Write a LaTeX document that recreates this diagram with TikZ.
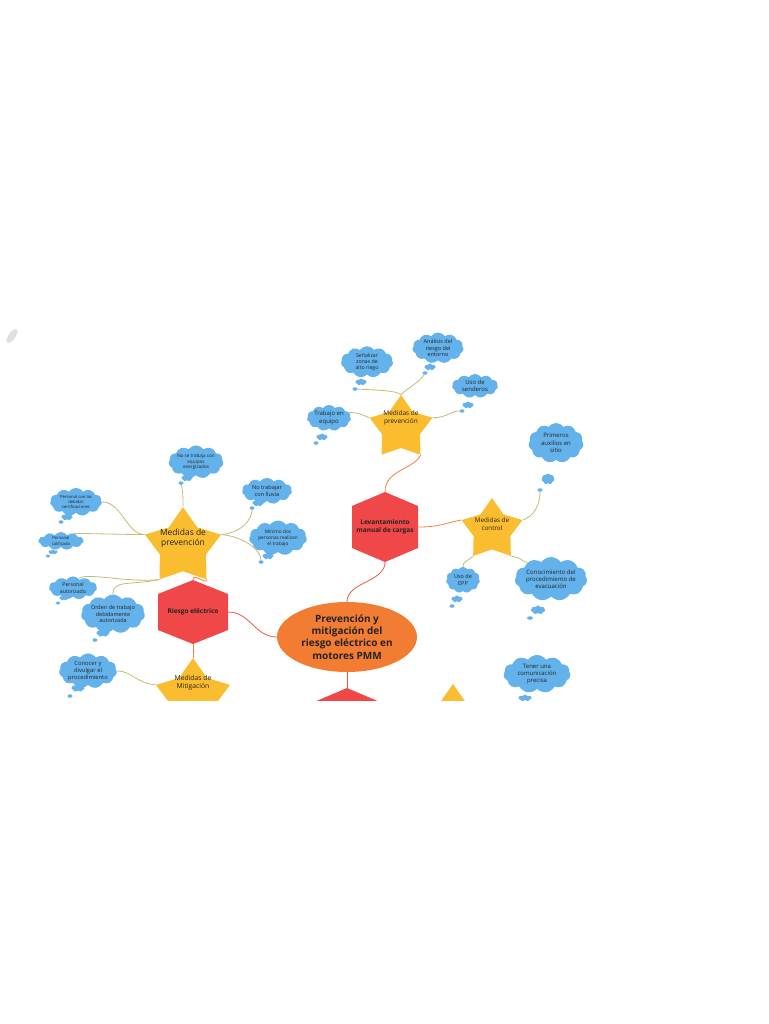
\documentclass[tikz,border=0pt]{standalone}
\usepackage{fontspec}
\setmainfont{Open Sans}
\usetikzlibrary{positioning}
\usetikzlibrary{calc}
\usetikzlibrary{shapes.geometric}
\usetikzlibrary{shapes.symbols}
\definecolor{coreorange}{RGB}{242, 125, 50}
\definecolor{hexred}{RGB}{240, 72, 72}
\definecolor{staryellow}{RGB}{251, 189, 48}
\definecolor{cloudblue}{RGB}{100, 178, 236}
\definecolor{inkgray}{RGB}{35, 35, 35}

\begin{document}
\begin{tikzpicture}[
    x=1pt, y=-1pt,
    % node styles
    core/.style = {
      ellipse, fill=coreorange, draw=none,
      minimum width=140pt, minimum height=70pt, inner sep=0pt,
      align=center, font=\bfseries\fontsize{10}{12.4}\selectfont, text=inkgray
    },
    hexa/.style = {
      inner sep=0pt, align=center, text=inkgray,
      font=\bfseries\fontsize{6.5}{8}\selectfont,
      path picture={
        \fill[hexred] (path picture bounding box.north)
          -- ([yshift=-14pt]path picture bounding box.north east)
          -- ([yshift=14pt]path picture bounding box.south east)
          -- (path picture bounding box.south)
          -- ([yshift=14pt]path picture bounding box.south west)
          -- ([yshift=-14pt]path picture bounding box.north west) -- cycle;
      }
    },
    starb/.style = {
      star, star points=5, star point ratio=1.65,
      fill=staryellow, draw=none, inner sep=0pt
    },
    startext/.style = {
      align=center, inner sep=0pt, text=inkgray,
      font=\fontsize{6.5}{8}\selectfont
    },
    cloudy/.style = {
      cloud, cloud puffs=11, cloud puff arc=110, aspect=2,
      fill=cloudblue, draw=none, inner sep=0pt,
      align=center, text=inkgray, font=\fontsize{5.5}{6.6}\selectfont
    },
    puff/.style = {
      cloud, cloud puffs=7, cloud puff arc=120, fill=cloudblue, draw=none,
      inner sep=0pt, minimum width=11pt, minimum height=7pt
    },
    puffdot/.style = {
      ellipse, fill=cloudblue, draw=none, inner sep=0pt,
      minimum width=5pt, minimum height=3.5pt
    },
    % connector styles
    link/.style = {line width=0.8pt, draw=staryellow!65!cloudblue},
    hexlink/.style = {line width=0.8pt, draw=hexred!50!staryellow},
    corelink/.style = {line width=0.8pt, draw=hexred!75!coreorange}
  ]
  \useasboundingbox (0,0) rectangle (768,1024);

  % faint smudge top left
  \fill[gray!25, rotate around={-35:(12,336)}] (12,336) ellipse (3.5pt and 8pt);

  \begin{scope}
  \clip (0,0) rectangle (768,700);

  % --- Nodes
  \node[core] (core) at (347,637) {Prevención y\\mitigación del\\riesgo eléctrico en\\motores PMM};

  \node[hexa, minimum width=66pt, minimum height=70pt] (lev) at (385,527) {Levantamiento\\manual de cargas};
  \node[hexa, minimum width=70pt, minimum height=64pt] (riesgo) at (193,612) {Riesgo eléctrico};
  \node[hexa, minimum width=66pt, minimum height=70pt] (bajo) at (347,723) {};

  \node[starb, minimum size=66pt] (topstar) at (401,428) {};
  \node[startext] (topstar-t) at (401,418) {Medidas de\\prevención};
  \node[starb, minimum size=80pt] (leftstar) at (183,547) {};
  \node[startext, font=\fontsize{8.5}{10}\selectfont] (leftstar-t) at (183,538) {Medidas de\\prevención};
  \node[starb, minimum size=64pt] (ctrlstar) at (492,530) {};
  \node[startext, font=\fontsize{6.3}{7.6}\selectfont] (ctrlstar-t) at (492,524) {Medidas de\\control};
  \node[starb, minimum size=78pt] (mitstar) at (193,697) {};
  \node[startext, font=\fontsize{6.8}{8}\selectfont] (mitstar-t) at (193,683) {Medidas de\\Mitigación};
  \node[starb, minimum size=72pt] (lowstar) at (453,720) {};

  % clouds of the upper star
  \node[cloudy, minimum width=42pt, minimum height=26pt, font=\fontsize{5.2}{6.3}\selectfont] (senal) at (367,362) {Señalizar\\zonas de\\alto riego};
  \node[puff] (senal-p) at (361,382) {};
  \node[puffdot] (senal-d) at (355,389) {};
  \node[cloudy, minimum width=44pt, minimum height=28pt] (analisis) at (438,348) {Análisis del\\riesgo del\\entorno};
  \node[puff] (analisis-p) at (430,367) {};
  \node[puffdot] (analisis-d) at (425,373) {};
  \node[cloudy, minimum width=46pt, minimum height=24pt, font=\fontsize{6}{7.2}\selectfont] (senderos) at (475,386) {Uso de\\senderos};
  \node[puff] (senderos-p) at (468,405) {};
  \node[puffdot] (senderos-d) at (462,411) {};
  \node[cloudy, minimum width=44pt, minimum height=24pt, font=\fontsize{6}{7.2}\selectfont] (equipo) at (329,418) {Trabajo en\\equipo};
  \node[puff] (equipo-p) at (322,437) {};
  \node[puffdot] (equipo-d) at (316,443) {};

  % clouds of the control star
  \node[cloudy, minimum width=52pt, minimum height=40pt, font=\fontsize{6}{7.2}\selectfont] (auxilios) at (556,443) {Primeros\\auxilios en\\sitio};
  \node[puff, minimum width=13pt, minimum height=11pt] (auxilios-p) at (548,479) {};
  \node[puffdot] (auxilios-d) at (540,490) {};
  \node[cloudy, minimum width=68pt, minimum height=42pt, font=\fontsize{6}{7.2}\selectfont] (evac) at (551,579) {Conocimiento del\\procedimiento de\\evacuación};
  \node[puff, minimum width=14pt, minimum height=9pt] (evac-p) at (538,610) {};
  \node[puffdot, minimum width=6pt] (evac-d) at (530,618) {};
  \node[cloudy, minimum width=34pt, minimum height=26pt] (epp) at (463,580) {Uso de\\EPP};
  \node[puff] (epp-p) at (457,599) {};
  \node[puffdot] (epp-d) at (452,606) {};
  \node[cloudy, minimum width=67pt, minimum height=38pt, font=\fontsize{6}{7.2}\selectfont] (comun) at (537,674) {Tener una\\comunicación\\precisa};
  \node[puff, minimum width=13pt] (comun-p) at (525,698) {};

  % clouds of the left star
  \node[cloudy, minimum width=52pt, minimum height=20pt, font=\fontsize{4.6}{5.5}\selectfont] (energ) at (196,462) {No se trabaja con\\equipos\\energizados};
  \node[puff] (energ-p) at (187,478) {};
  \node[puffdot] (energ-d) at (181,483) {};
  \node[cloudy, minimum width=50pt, minimum height=21pt, font=\fontsize{5.6}{6.7}\selectfont] (lluvia) at (267,491) {No trabajar\\con lluvia};
  \node[puff] (lluvia-p) at (258,503) {};
  \node[puffdot] (lluvia-d) at (252,508) {};
  \node[cloudy, minimum width=57pt, minimum height=26pt, font=\fontsize{4.8}{5.9}\selectfont] (minimo) at (278,538) {Mínimo dos\\personas realizan\\el trabajo};
  \node[puff] (minimo-p) at (268,556) {};
  \node[puffdot] (minimo-d) at (261,562) {};
  \node[cloudy, minimum width=52pt, minimum height=22pt, font=\fontsize{4.2}{5.2}\selectfont] (certif) at (76,502) {Personal con las\\debidas\\certificaciones};
  \node[puff] (certif-p) at (67,517) {};
  \node[puffdot] (certif-d) at (61,522) {};
  \node[cloudy, minimum width=45pt, minimum height=18pt, font=\fontsize{4.2}{5.2}\selectfont] (calif) at (61,541) {Personal\\calificado};
  \node[puff, minimum width=9pt, minimum height=5pt] (calif-p) at (53,552) {};
  \node[puffdot, minimum width=4pt, minimum height=3pt] (calif-d) at (48,556) {};
  \node[cloudy, minimum width=48pt, minimum height=19pt, font=\fontsize{5.2}{6.2}\selectfont] (autoriz) at (73,588) {Personal\\autorizado};
  \node[puff, minimum width=9pt, minimum height=5pt] (autoriz-p) at (64,598) {};
  \node[puffdot, minimum width=4pt, minimum height=3pt] (autoriz-d) at (58,603) {};
  \node[cloudy, minimum width=60pt, minimum height=26pt] (orden) at (113,614) {Orden de trabajo\\debidamente\\autorizada};
  \node[puff, minimum width=13pt, minimum height=8pt] (orden-p) at (103,633) {};
  \node[puffdot] (orden-d) at (95,640) {};

  % cloud of the mitigation star
  \node[cloudy, minimum width=57pt, minimum height=26pt, font=\fontsize{5.8}{6.9}\selectfont] (conocer) at (88,671) {Conocer y\\divulgar el\\procedimiento};
  \node[puff, minimum width=13pt, minimum height=8pt] (conocer-p) at (78,688) {};
  \node[puffdot] (conocer-d) at (70,696) {};

  % --- Connectors
  \draw[corelink] (core.north) .. controls +(0,-20) and +(0,20) .. (lev.south);
  \draw[corelink] (riesgo.east) .. controls +(22,0) and +(-22,0) .. (core.west);
  \draw[corelink] (core.south) -- (bajo.north);

  \draw[hexlink] (lev.north) .. controls +(0,-22) and +(-6,14) .. (topstar.-54);
  \draw[hexlink] (lev.east) .. controls +(22,0) and +(-16,3) .. (ctrlstar.162);
  \draw[hexlink] (riesgo.north) .. controls +(0,-8) and +(0,6) .. (leftstar.-54);
  \draw[hexlink] (riesgo.south) -- (mitstar.90);

  \draw[link] (topstar.90) .. controls +(-4,-4) and +(22,1) .. (senal-d);
  \draw[link] (topstar.90) .. controls +(8,-8) and +(-6,10) .. (analisis-d);
  \draw[link] (topstar.18) .. controls +(15,0) and +(-12,0) .. (senderos-d);
  \draw[link] (topstar.162) .. controls +(-10,-4) and +(8,0) .. (equipo.15);

  \draw[link] (ctrlstar.18) .. controls +(12,-4) and +(0,14) .. (auxilios-d);
  \draw[link] (ctrlstar.-54) .. controls +(15,3) and +(-10,-3) .. (evac.145);
  \draw[link] (ctrlstar.234) .. controls +(-6,6) and +(0,-6) .. (epp.north);

  \draw[link] (leftstar.90) .. controls +(0,-10) and +(2,10) .. (energ-d);
  \draw[link] (leftstar.18) .. controls +(22,-2) and +(0,10) .. (lluvia-d);
  \draw[link] (leftstar.18) .. controls +(22,2) and +(0,-12) .. (minimo-d);
  \draw[link] (leftstar.162) .. controls +(-18,0) and +(20,0) .. (certif.east);
  \draw[link] (leftstar.162) .. controls +(-20,0) and +(15,0) .. (calif.30);
  \draw[link] (leftstar.234) .. controls +(-35,3) and +(10,-6) .. (autoriz.60);
  \draw[link] (leftstar.234) .. controls +(-30,6) and +(0,-15) .. (orden.north);

  \draw[link] (mitstar.162) .. controls +(-20,-2) and +(15,0) .. (conocer.east);
  \end{scope}

\end{tikzpicture}
\end{document}
